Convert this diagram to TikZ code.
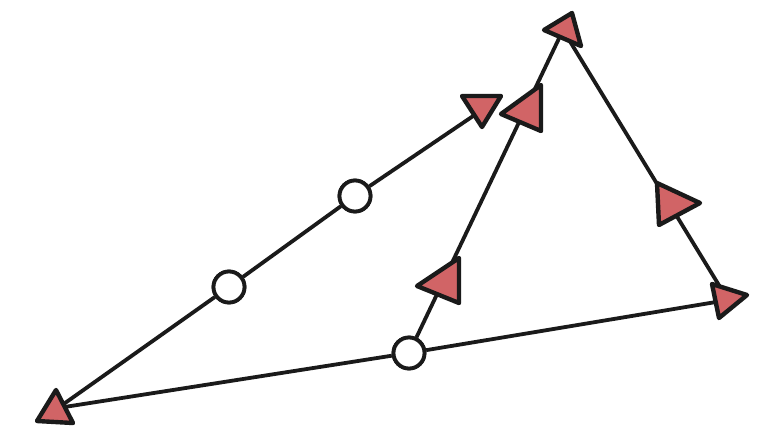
\documentclass[tikz,border=0pt]{standalone}
\begin{document}
\begin{tikzpicture}[x=1pt,y=-1pt]
\definecolor{tfill}{RGB}{209,100,102}
\definecolor{ink}{RGB}{26,26,26}
\tikzset{
  edge/.style={draw=ink,line width=3.8pt},
  tri/.style={draw=ink,fill=tfill,line width=4.4pt,line join=round},
  dot/.style={circle,draw=ink,fill=white,line width=3.8pt,minimum size=31pt,inner sep=0pt}}
\useasboundingbox (0,0) rectangle (768,432);
\coordinate (A) at (58,408);
\coordinate (B) at (482,110);
\coordinate (T) at (563,30);
\coordinate (E) at (728,300);
\node[dot] (c1) at (229,287) {};
\node[dot] (c2) at (355,196) {};
\node[dot] (c3) at (409,353) {};
\draw[edge] (A) -- (c1) -- (c2) -- (B);
\draw[edge] (A) -- (c3) -- (E);
\draw[edge] (c3) -- (T);
\draw[edge] (T) -- (E);
\node[dot] at (c1) {};
\node[dot] at (c2) {};
\node[dot] at (c3) {};
% triangles
\draw[tri] (56,390) -- (37,421) -- (73,423) -- cycle;
\draw[tri] (462,96) -- (501,96) -- (482,127) -- cycle;
\draw[tri] (501,114) -- (541,85) -- (541,131) -- cycle;
\draw[tri] (544,30) -- (572,13) -- (581,46) -- cycle;
\draw[tri] (657,183) -- (700,203) -- (659,225) -- cycle;
\draw[tri] (712,284) -- (747,295) -- (719,318) -- cycle;
\draw[tri] (417,286) -- (459,258) -- (459,303) -- cycle;
\end{tikzpicture}
\end{document}
